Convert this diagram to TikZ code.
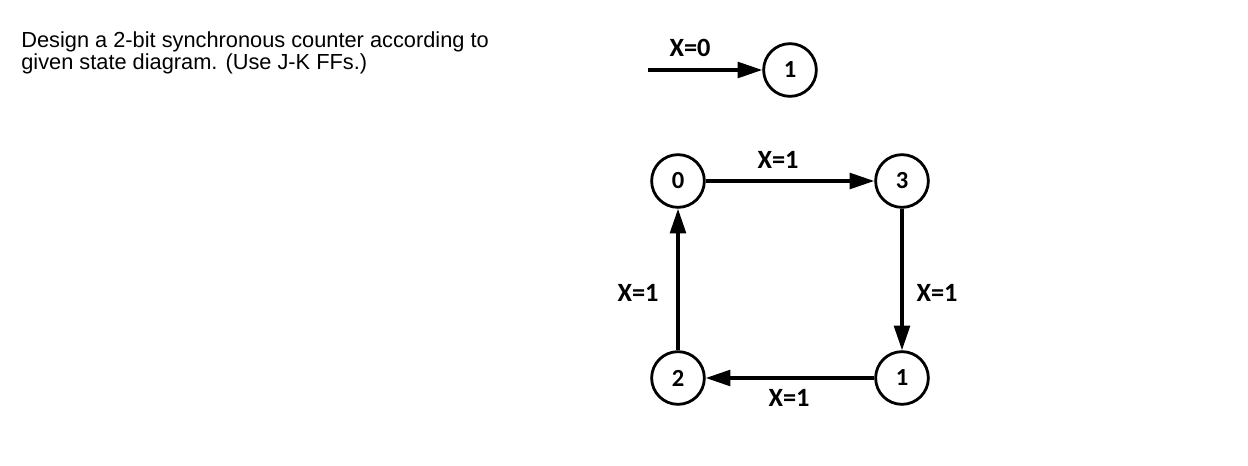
\documentclass[tikz,border=0pt]{standalone}
\usepackage{fontspec}
\setmainfont{Liberation Sans}
\newfontfamily\carlito{Carlito}
\usetikzlibrary{arrows.meta}
\begin{document}
\begin{tikzpicture}[x=0.02cm,y=-0.02cm,
  st/.style={circle,draw,line width=1.6pt,minimum size=30pt,inner sep=0pt,font=\carlito\bfseries\fontsize{14}{16}\selectfont},
  lbl/.style={font=\carlito\bfseries\fontsize{15}{17}\selectfont},
  edge/.style={line width=1.8pt,-{Triangle[length=14pt,width=9pt]}}]
\useasboundingbox (0,0) rectangle (1248,466);
\node[anchor=north west,align=left,font=\fontsize{12.4}{12.5}\selectfont,inner sep=0pt] (t) at (21,31) {Design a 2-bit synchronous counter according to\\given state diagram. (Use J-K FFs.)};
\coordinate (s) at (648,70);
\node[st] (one) at (790,70) {1};
\node[st] (n0) at (678,181) {0};
\node[st] (n3) at (902,181) {3};
\node[st] (n1) at (902,378) {1};
\node[st] (n2) at (678,378) {2};
\draw[edge] (s) -- (one);
\draw[edge] (n0) -- (n3);
\draw[edge] (n3) -- (n1);
\draw[edge] (n1) -- (n2);
\draw[edge] (n2) -- (n0);
\node[lbl] (l0) at (690,48) {X=0};
\node[lbl] (l1) at (778,160) {X=1};
\node[lbl] (l2) at (937,293) {X=1};
\node[lbl] (l3) at (789,398) {X=1};
\node[lbl] (l4) at (638,293) {X=1};
\end{tikzpicture}
\end{document}
